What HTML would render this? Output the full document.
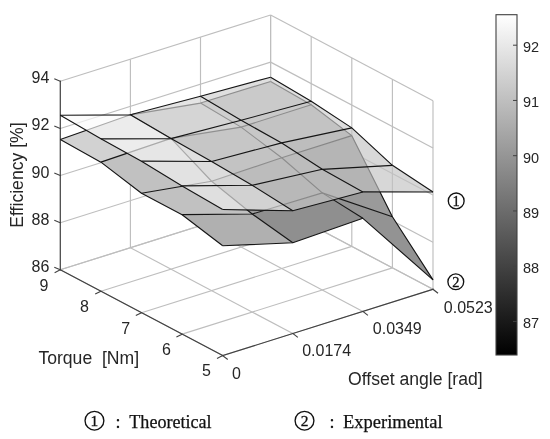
<!DOCTYPE html>
<html><head><meta charset="utf-8"><style>html,body{margin:0;padding:0;background:#fff;}svg{display:block;}</style></head>
<body>
<svg width="550" height="439" viewBox="0 0 550 439">
<rect width="550" height="439" fill="#fff"/>
<g stroke="#bebebe" stroke-width="1.15" fill="none">
<line x1="60.3" y1="269.8" x2="222.7" y2="355.6"/>
<line x1="130.4" y1="247.7" x2="292.8" y2="333.5"/>
<line x1="200.5" y1="225.6" x2="362.9" y2="311.4"/>
<line x1="270.6" y1="203.5" x2="433" y2="289.3"/>
<line x1="222.7" y1="355.6" x2="433" y2="289.3"/>
<line x1="182.1" y1="334.15" x2="392.4" y2="267.85"/>
<line x1="141.5" y1="312.7" x2="351.8" y2="246.4"/>
<line x1="100.9" y1="291.25" x2="311.2" y2="224.95"/>
<line x1="60.3" y1="269.8" x2="270.6" y2="203.5"/>
<line x1="60.3" y1="269.8" x2="60.3" y2="81.3"/>
<line x1="130.4" y1="247.7" x2="130.4" y2="59.2"/>
<line x1="200.5" y1="225.6" x2="200.5" y2="37.1"/>
<line x1="270.6" y1="203.5" x2="270.6" y2="15"/>
<line x1="60.3" y1="269.8" x2="270.6" y2="203.5"/>
<line x1="60.3" y1="222.68" x2="270.6" y2="156.38"/>
<line x1="60.3" y1="175.55" x2="270.6" y2="109.25"/>
<line x1="60.3" y1="128.43" x2="270.6" y2="62.12"/>
<line x1="60.3" y1="81.3" x2="270.6" y2="15"/>
<line x1="433" y1="289.3" x2="433" y2="100.8"/>
<line x1="392.4" y1="267.85" x2="392.4" y2="79.35"/>
<line x1="351.8" y1="246.4" x2="351.8" y2="57.9"/>
<line x1="311.2" y1="224.95" x2="311.2" y2="36.45"/>
<line x1="270.6" y1="203.5" x2="270.6" y2="15"/>
<line x1="270.6" y1="203.5" x2="433" y2="289.3"/>
<line x1="270.6" y1="156.38" x2="433" y2="242.18"/>
<line x1="270.6" y1="109.25" x2="433" y2="195.05"/>
<line x1="270.6" y1="62.12" x2="433" y2="147.93"/>
<line x1="270.6" y1="15" x2="433" y2="100.8"/>
</g>
<g stroke="#404040" stroke-width="1.1" fill="none" stroke-linecap="square">
<line x1="60.3" y1="269.8" x2="60.3" y2="81.3"/>
<line x1="60.3" y1="269.8" x2="222.7" y2="355.6"/>
<line x1="222.7" y1="355.6" x2="433" y2="289.3"/>
<line x1="60.3" y1="269.8" x2="54.8" y2="267.5"/>
<line x1="60.3" y1="222.68" x2="54.8" y2="220.38"/>
<line x1="60.3" y1="175.55" x2="54.8" y2="173.25"/>
<line x1="60.3" y1="128.43" x2="54.8" y2="126.13"/>
<line x1="60.3" y1="81.3" x2="54.8" y2="79"/>
<line x1="222.7" y1="355.6" x2="217.5" y2="358.2"/>
<line x1="182.1" y1="334.15" x2="176.9" y2="336.75"/>
<line x1="141.5" y1="312.7" x2="136.3" y2="315.3"/>
<line x1="100.9" y1="291.25" x2="95.7" y2="293.85"/>
<line x1="60.3" y1="269.8" x2="55.1" y2="272.4"/>
<line x1="222.7" y1="355.6" x2="227.3" y2="359.2"/>
<line x1="292.8" y1="333.5" x2="297.4" y2="337.1"/>
<line x1="362.9" y1="311.4" x2="367.5" y2="315"/>
<line x1="433" y1="289.3" x2="437.6" y2="292.9"/>
</g>
<polygon points="241.1,127.12 311.2,104.78 270.6,81.45 200.5,103.07" fill="rgb(194,194,194)" fill-opacity="1.0"/>
<polygon points="281.7,157.76 351.8,135.66 311.2,104.78 241.1,127.12" fill="rgb(178,178,178)" fill-opacity="1.0"/>
<polygon points="171,138.38 241.1,127.12 200.5,103.07 130.4,114.81" fill="rgb(213,213,213)" fill-opacity="1.0"/>
<polygon points="322.3,192.87 392.4,216.72 351.8,135.66 281.7,157.76" fill="rgb(154,154,154)" fill-opacity="1.0"/>
<polygon points="211.6,181.27 281.7,157.76 241.1,127.12 171,138.38" fill="rgb(176,176,176)" fill-opacity="1.0"/>
<polygon points="100.9,162.13 171,138.38 130.4,114.81 60.3,139.5" fill="rgb(210,210,210)" fill-opacity="1.0"/>
<polygon points="362.9,218.33 433,279.87 392.4,216.72 322.3,192.87" fill="rgb(147,147,147)" fill-opacity="1.0"/>
<polygon points="252.2,214.03 322.3,192.87 281.7,157.76 211.6,181.27" fill="rgb(156,156,156)" fill-opacity="1.0"/>
<polygon points="141.5,193.24 211.6,181.27 171,138.38 100.9,162.13" fill="rgb(193,193,193)" fill-opacity="1.0"/>
<polygon points="292.8,242.78 362.9,218.33 322.3,192.87 252.2,214.03" fill="rgb(143,143,143)" fill-opacity="1.0"/>
<polygon points="182.1,214.69 252.2,214.03 211.6,181.27 141.5,193.24" fill="rgb(193,193,193)" fill-opacity="1.0"/>
<polygon points="222.7,245.8 292.8,242.78 252.2,214.03 182.1,214.69" fill="rgb(176,176,176)" fill-opacity="1.0"/>
<g stroke="#151515" stroke-width="1.15" fill="none" stroke-linejoin="round">
<polyline points="222.7,245.8 292.8,242.78 362.9,218.33 433,279.87"/>
<polyline points="182.1,214.69 252.2,214.03 322.3,192.87 392.4,216.72"/>
<polyline points="141.5,193.24 211.6,181.27 281.7,157.76 351.8,135.66"/>
<polyline points="100.9,162.13 171,138.38 241.1,127.12 311.2,104.78"/>
<polyline points="60.3,139.5 130.4,114.81 200.5,103.07 270.6,81.45"/>
<polyline points="222.7,245.8 182.1,214.69 141.5,193.24 100.9,162.13 60.3,139.5"/>
<polyline points="292.8,242.78 252.2,214.03 211.6,181.27 171,138.38 130.4,114.81"/>
<polyline points="362.9,218.33 322.3,192.87 281.7,157.76 241.1,127.12 200.5,103.07"/>
<polyline points="433,279.87 392.4,216.72 351.8,135.66 311.2,104.78 270.6,81.45"/>
</g>
<polygon points="241.1,120.28 311.2,101.25 270.6,77.21 200.5,96.24" fill="rgb(206,206,206)" fill-opacity="0.65"/>
<polygon points="281.7,142.91 351.8,127.88 311.2,101.25 241.1,120.28" fill="rgb(204,204,204)" fill-opacity="0.65"/>
<polygon points="171,138.61 241.1,120.28 200.5,96.24 130.4,114.81" fill="rgb(213,213,213)" fill-opacity="0.65"/>
<polygon points="322.3,169.31 392.4,165.35 351.8,127.88 281.7,142.91" fill="rgb(195,195,195)" fill-opacity="0.65"/>
<polygon points="211.6,161.48 281.7,142.91 241.1,120.28 171,138.61" fill="rgb(210,210,210)" fill-opacity="0.65"/>
<polygon points="100.9,138.8 171,138.61 130.4,114.81 60.3,115.23" fill="rgb(251,251,251)" fill-opacity="0.65"/>
<polygon points="362.9,191.94 433,191.99 392.4,165.35 322.3,169.31" fill="rgb(193,193,193)" fill-opacity="0.65"/>
<polygon points="252.2,185.28 322.3,169.31 281.7,142.91 211.6,161.48" fill="rgb(206,206,206)" fill-opacity="0.65"/>
<polygon points="141.5,161.19 211.6,161.48 171,138.61 100.9,138.8" fill="rgb(250,250,250)" fill-opacity="0.65"/>
<polygon points="292.8,210.74 362.9,191.94 322.3,169.31 252.2,185.28" fill="rgb(199,199,199)" fill-opacity="0.65"/>
<polygon points="182.1,185.94 252.2,185.28 211.6,161.48 141.5,161.19" fill="rgb(244,244,244)" fill-opacity="0.65"/>
<polygon points="222.7,209.51 292.8,210.74 252.2,185.28 182.1,185.94" fill="rgb(240,240,240)" fill-opacity="0.65"/>
<g stroke="#151515" stroke-width="1.15" fill="none" stroke-linejoin="round">
<polyline points="222.7,209.51 292.8,210.74 362.9,191.94 433,191.99"/>
<polyline points="182.1,185.94 252.2,185.28 322.3,169.31 392.4,165.35"/>
<polyline points="141.5,161.19 211.6,161.48 281.7,142.91 351.8,127.88"/>
<polyline points="100.9,138.8 171,138.61 241.1,120.28 311.2,101.25"/>
<polyline points="60.3,115.23 130.4,114.81 200.5,96.24 270.6,77.21"/>
<polyline points="222.7,209.51 182.1,185.94 141.5,161.19 100.9,138.8 60.3,115.23"/>
<polyline points="292.8,210.74 252.2,185.28 211.6,161.48 171,138.61 130.4,114.81"/>
<polyline points="362.9,191.94 322.3,169.31 281.7,142.91 241.1,120.28 200.5,96.24"/>
<polyline points="433,191.99 392.4,165.35 351.8,127.88 311.2,101.25 270.6,77.21"/>
</g>
<defs><linearGradient id="cb" x1="0" y1="1" x2="0" y2="0"><stop offset="0" stop-color="#000"/><stop offset="1" stop-color="#fff"/></linearGradient></defs>
<rect x="496" y="14.7" width="21" height="340.3" fill="url(#cb)" stroke="#404040" stroke-width="1.1"/>
<g stroke="#404040" stroke-width="1">
<line x1="513" y1="321.45" x2="517" y2="321.45"/>
<line x1="513" y1="266.2" x2="517" y2="266.2"/>
<line x1="513" y1="210.95" x2="517" y2="210.95"/>
<line x1="513" y1="155.7" x2="517" y2="155.7"/>
<line x1="513" y1="100.45" x2="517" y2="100.45"/>
<line x1="513" y1="45.2" x2="517" y2="45.2"/>
</g>
<g font-family="'Liberation Sans', Arial, sans-serif" font-size="16" fill="#262626">
<text x="523" y="328.25" font-size="14.5">87</text>
<text x="523" y="273" font-size="14.5">88</text>
<text x="523" y="217.75" font-size="14.5">89</text>
<text x="523" y="162.5" font-size="14.5">90</text>
<text x="523" y="107.25" font-size="14.5">91</text>
<text x="523" y="52" font-size="14.5">92</text>
<text x="49.4" y="272.4" text-anchor="end">86</text>
<text x="49.4" y="225.03" text-anchor="end">88</text>
<text x="49.4" y="177.65" text-anchor="end">90</text>
<text x="49.4" y="130.28" text-anchor="end">92</text>
<text x="49.4" y="82.9" text-anchor="end">94</text>
<text x="39.5" y="291">9</text>
<text x="80" y="311.6">8</text>
<text x="121.2" y="333.6">7</text>
<text x="162" y="355.3">6</text>
<text x="202" y="375.8">5</text>
<text x="232" y="378.5">0</text>
<text x="302.2" y="356.4">0.0174</text>
<text x="372.8" y="334.4">0.0349</text>
<text x="443.8" y="313">0.0523</text>
<text x="38.4" y="364" font-size="17.6">Torque&#160; [Nm]</text>
<text x="348" y="385" font-size="17.6">Offset angle [rad]</text>
<text transform="translate(23,227.7) rotate(-90)" font-size="17.6">Efficiency [%]</text>
</g>
<circle cx="456.2" cy="200.9" r="7.9" fill="none" stroke="#111" stroke-width="1.35"/><text x="456.2" y="206.0" text-anchor="middle" font-family="'Liberation Serif', 'DejaVu Serif', serif" font-size="14.5" fill="#111" stroke="#111" stroke-width="0.3">1</text>
<circle cx="455.8" cy="281.8" r="7.9" fill="none" stroke="#111" stroke-width="1.35"/><text x="455.8" y="286.90000000000003" text-anchor="middle" font-family="'Liberation Serif', 'DejaVu Serif', serif" font-size="14.5" fill="#111" stroke="#111" stroke-width="0.3">2</text>
<circle cx="94.45" cy="420.7" r="9.4" fill="none" stroke="#111" stroke-width="1.35"/><text x="94.45" y="426.0" text-anchor="middle" font-family="'Liberation Serif', 'DejaVu Serif', serif" font-size="15.5" fill="#111" stroke="#111" stroke-width="0.3">1</text>
<circle cx="304.5" cy="420.7" r="9.4" fill="none" stroke="#111" stroke-width="1.35"/><text x="304.5" y="426.0" text-anchor="middle" font-family="'Liberation Serif', 'DejaVu Serif', serif" font-size="15.5" fill="#111" stroke="#111" stroke-width="0.3">2</text>
<g font-family="'Liberation Serif', 'DejaVu Serif', serif" font-size="18" fill="#111" stroke="#111" stroke-width="0.25">
<text x="115.5" y="427.8">:</text>
<text x="129.3" y="427.8" textLength="82.3" lengthAdjust="spacingAndGlyphs">Theoretical</text>
<text x="329.5" y="427.8">:</text>
<text x="343" y="427.8" textLength="99.6" lengthAdjust="spacingAndGlyphs">Experimental</text>
</g>
</svg>
</body></html>
